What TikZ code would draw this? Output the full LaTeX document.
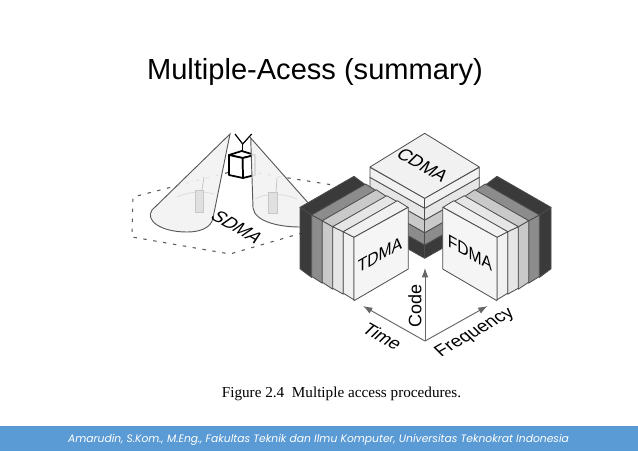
\documentclass[tikz,border=0pt]{standalone}
\usepackage{fontspec}
\setmainfont{Liberation Sans}
\newfontfamily\serifcap{Liberation Serif}
\newfontfamily\footfont{Poppins}
\usetikzlibrary{arrows.meta}
\definecolor{shadeA}{HTML}{3A3A3A}
\definecolor{shadeB}{HTML}{8C8C8C}
\definecolor{shadeC}{HTML}{C9C9C9}
\definecolor{shadeD}{HTML}{E6E6E6}
\definecolor{shadeE}{HTML}{F1F1F1}
\definecolor{bandblue}{HTML}{5B9BD5}
\tikzset{
	cube/.style={draw=black!70, line width=.6pt, line join=round},
	beam/.style={draw=black!65, line width=.7pt, fill=black!5, fill opacity=.9},
	phone/.style={draw=black!22, fill=black!12, line width=.5pt},
	zone/.style={draw=black!65, dash pattern=on 2.5pt off 5pt, line width=.8pt},
	axis/.style={draw=black!60, line width=.7pt, -{Latex[length=7pt,width=5pt]}},
	lbl/.style={inner sep=0pt, transform shape, font=\fontsize{13.5}{15}\selectfont},
}

\begin{document}
\begin{tikzpicture}[x=.75pt, y=-.75pt]
	\useasboundingbox (0,0) rectangle (638,451);
	\fill[white] (0,0) rectangle (638,451);
	\fill[bandblue] (0,426) rectangle (638,451);
	\node[anchor=center, inner sep=0pt, font=\fontsize{21.8}{24}\selectfont] (title) at (315,72) {Multiple-Acess (summary)};
	\node[anchor=center, inner sep=0pt, font=\serifcap\fontsize{11.4}{13}\selectfont] (caption) at (341.5,394) {Figure 2.4\ \ Multiple access procedures.};
	\node[anchor=center, inner sep=0pt, text=white, font=\footfont\itshape\fontsize{8.05}{10}\selectfont] (footer) at (318.5,440) {Amarudin, S.Kom., M.Eng., Fakultas Teknik dan Ilmu Komputer, Universitas Teknokrat Indonesia};
	% SDMA zone
	\draw[zone] (238,170) -- (333,185);
	\draw[zone] (238,170) -- (133,197) -- (132,237) -- (230,254) -- (302,233);
	% base station
	\draw[black, line width=.9pt] (235,134) -- (242.7,144) -- (251.7,134);
	\draw[black, line width=.9pt] (242.7,144) -- (242.7,151);
	\draw[black, fill=white, line width=1.3pt, line join=round] (229,155) -- (241.7,151) -- (255,155) -- (242.7,158) -- cycle;
	\draw[black, fill=white, line width=1.3pt, line join=round] (229,155) -- (242.7,158) -- (243,178) -- (229,175) -- cycle;
	\draw[black, fill=white, line width=1.3pt, line join=round] (242.7,158) -- (255,155) -- (255,175) -- (243,178) -- cycle;
	% beams
	\draw[beam] (230,134) -- (152,210) .. controls (145,220) and (160,232) .. (187,232) .. controls (200,232) and (211,228) .. (213,218) -- cycle;
	\draw[beam] (250.7,138) -- (310,205) -- (310,227) -- (300,227) .. controls (280,227) and (255,222) .. (253,208) -- cycle;
	\draw[black!15, line width=.5pt] (177,197) .. controls (190,191) and (205,191) .. (214,194);
	\draw[black!15, line width=.5pt] (255,199) .. controls (265,193) and (285,193) .. (297,199);
	% handsets
	\draw[phone] (195,190) rectangle (203,212);
	\draw[black!25, line width=.5pt] (202,190) -- (204,177);
	\draw[phone] (268,192) rectangle (277,213);
	\draw[black!25, line width=.5pt] (276,192) -- (277,178);
	\node[lbl, cm={.87,-.5,.72,.72,(0,0)}, font=\fontsize{13.5}{15}\selectfont\itshape] (sdma) at (237,227) {SDMA};
	% CDMA stack, lowest layer first
	\foreach \ya/\yb/\shade in {245/258.3/shadeA, 232.7/245/shadeB, 220/232.7/shadeC, 208.3/220/shadeD, 198.3/208.3/shadeE}{
		\draw[cube, fill=\shade] (370,\ya-31) -- (424.7,\ya) -- (479.3,\ya-31) -- (479.3,\yb-31) -- (424.7,\yb) -- (370,\yb-31) -- cycle;
		\draw[cube] (424.7,\ya) -- (424.7,\yb);
	}
	\draw[cube, fill=shadeE] (424.7,133.3) -- (479.3,167) -- (424.7,198.3) -- (370,167) -- cycle;
	% TDMA and FDMA stacks, FDMA is the mirror image
	\foreach \mir/\sgn in {0/1, 851/-1}{
		\begin{scope}[xshift=\mir*.75pt, xscale=\sgn]
			\foreach \xa/\ya/\xb/\yb/\shade in {300/207.3/311.7/215/shadeA, 311.7/215/322.3/220.7/shadeB, 322.3/220.7/332.7/226.7/shadeC, 332.7/226.7/343.3/231.7/shadeD, 343.3/231.7/354/237.3/shadeE}{
				\draw[cube, fill=\shade] (\xa,\ya) -- (\xb,\yb) -- (\xb,\yb+62.5) -- (\xa,\ya+61.5) -- cycle;
				\draw[cube, fill=\shade] (\xa,\ya) -- (\xb,\yb) -- (\xb+54,\yb-30) -- (\xa+54,\ya-31) -- cycle;
			}
			\draw[cube, fill=shadeE!70!white] (354,237.3) -- (408.3,207.3) -- (408.3,269) -- (354,300.7) -- cycle;
		\end{scope}
	}
	\node[lbl, cm={.87,-.5,.72,.72,(0,0)}] (cdma) at (422.7,165) {CDMA};
	\node[lbl, cm={.87,.5,0,1,(0,0)}] (tdma) at (380,255) {TDMA};
	\node[lbl, cm={.87,-.5,0,1,(0,0)}] (fdma) at (470,253) {FDMA};
	% axes
	\coordinate (orig) at (425,341);
	\coordinate (codeEnd) at (425,268);
	\coordinate (timeEnd) at (363,306);
	\coordinate (freqEnd) at (487.5,306);
	\draw[axis] (orig) -- (codeEnd);
	\draw[axis] (orig) -- (timeEnd);
	\draw[axis] (orig) -- (freqEnd);
	\node[lbl, rotate=90] (code) at (415,306) {Code};
	\node[lbl, cm={.87,-.5,.72,.72,(0,0)}] (time) at (382.5,336.5) {Time};
	\node[lbl, cm={.87,.5,-.72,.72,(0,0)}] (freq) at (475,333) {Frequency};
\end{tikzpicture}
\end{document}
